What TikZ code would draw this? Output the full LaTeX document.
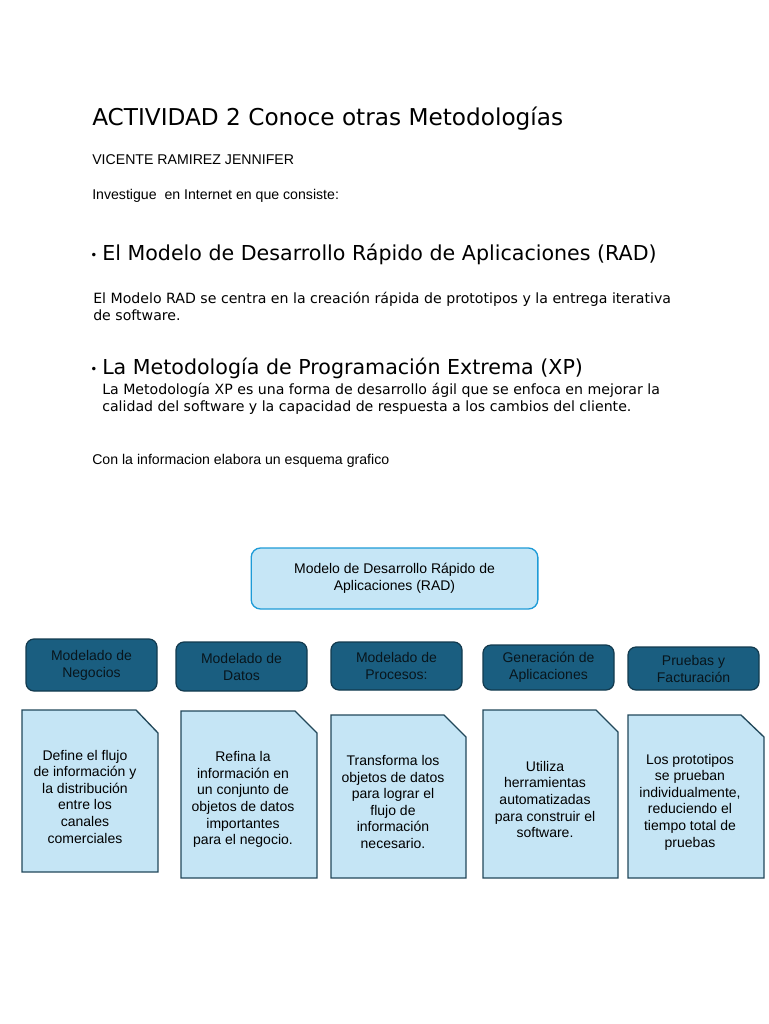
\documentclass[tikz,border=0pt]{standalone}
\usepackage{fontspec}
\setmainfont{DejaVu Sans}
\newfontfamily\arialf{Liberation Sans}
\definecolor{topfill}{HTML}{C6E6F6}
\definecolor{topdraw}{HTML}{1E9BD7}
\definecolor{darkfill}{HTML}{1A5E80}
\definecolor{darkdraw}{HTML}{123A4E}
\definecolor{docfill}{HTML}{C5E5F5}
\definecolor{docdraw}{HTML}{22485A}
\definecolor{darktext}{HTML}{08151C}
\begin{document}
\begin{tikzpicture}[x=0.75pt,y=-0.75pt,
  txt/.style={inner sep=0pt, anchor=base west},
  title/.style={txt,font=\fontsize{17.4}{20}\selectfont},
  heading/.style={txt,font=\fontsize{15.45}{18}\selectfont},
  bulletmark/.style={inner sep=0pt, anchor=base west, font=\fontsize{9}{9}\selectfont},
  body/.style={txt,font=\fontsize{10.6}{12.75}\selectfont, align=left},
  arialtxt/.style={txt,font=\arialf\fontsize{10.6}{12.75}\selectfont},
  topbox/.style={draw=topdraw, fill=topfill, rounded corners=7pt, line width=1pt,
    minimum width=215pt, minimum height=45.75pt, align=center, inner sep=0pt,
    font=\arialf\fontsize{10.5}{12.75}\selectfont},
  stagebox/.style={draw=darkdraw, fill=darkfill, rounded corners=6pt, line width=0.9pt,
    minimum width=98.25pt, align=center, inner sep=0pt, text=darktext,
    font=\arialf\fontsize{10.5}{12.75}\selectfont},
  docshape/.style={draw=docdraw, fill=docfill, line width=1pt},
  doctext/.style={align=center, inner sep=0pt, font=\arialf\fontsize{10.5}{12.45}\selectfont}
]
\useasboundingbox (0,0) rectangle (768,1024);

% ---- header text ----
\node[title] (t1) at (92,125) {ACTIVIDAD 2 Conoce otras Metodologías};
\node[arialtxt] (t2) at (92,164) {VICENTE RAMIREZ JENNIFER};
\node[arialtxt] (t3) at (92,199) {Investigue\ \ en Internet en que consiste:};

\node[bulletmark] (b1) at (90,259) {•};
\node[heading] (h1) at (102,260) {El Modelo de Desarrollo Rápido de Aplicaciones (RAD)};
\node[body] (p1) at (93,303) {El Modelo RAD se centra en la creación rápida de prototipos y la entrega iterativa};
\node[body] (p1b) at (93,320) {de software.};

\node[bulletmark] (b2) at (90,373) {•};
\node[heading] (h2) at (102,374) {La Metodología de Programación Extrema (XP)};
\node[body] (p2) at (102,394) {La Metodología XP es una forma de desarrollo ágil que se enfoca en mejorar la};
\node[body] (p2b) at (102,411) {calidad del software y la capacidad de respuesta a los cambios del cliente.};

\node[arialtxt] (t4) at (92,464) {Con la informacion elabora un esquema grafico};

% ---- top box ----
\node[topbox] (rad) at (394.5,578.5) {Modelo de Desarrollo Rápido de\\Aplicaciones (RAD)};

% ---- stage boxes ----
\node[stagebox, minimum height=39pt]    (s1) at (91.5,665)   {Modelado de\\Negocios};
\node[stagebox, minimum height=36.75pt] (s2) at (241.5,666.5) {Modelado de\\Datos};
\node[stagebox, minimum height=36pt]    (s3) at (396.5,666)  {Modelado de\\Procesos:};
\node[stagebox, minimum height=33.75pt] (s4) at (548.5,667.5) {Generación de\\Aplicaciones};
\node[stagebox, minimum height=32.25pt] (s5) at (693.5,668.5) {Pruebas y\\Facturación};

% ---- document shapes ----
\draw[docshape] (22,710) -- (136,710) -- (158,733) -- (158,872) -- (22,872) -- cycle;
\draw[docshape] (181,711) -- (295,711) -- (317,733) -- (317,878) -- (181,878) -- cycle;
\draw[docshape] (331,715) -- (444,715) -- (466,737) -- (466,878) -- (331,878) -- cycle;
\draw[docshape] (483,710) -- (596,710) -- (618,732) -- (618,878) -- (483,878) -- cycle;
\draw[docshape] (628,715) -- (741,715) -- (764,737) -- (764,878) -- (628,878) -- cycle;

\node[doctext] (d1) at (85,796.5) {Define el flujo\\de información y\\la distribución\\entre los\\canales\\comerciales};
\node[doctext] (d2) at (243,799.5) {Refina la\\información en\\un conjunto de\\objetos de datos\\importantes\\para el negocio.};
\node[doctext] (d3) at (393,802) {Transforma los\\objetos de datos\\para lograr el\\flujo de\\información\\necesario.};
\node[doctext] (d4) at (545,799.5) {Utiliza\\herramientas\\automatizadas\\para construir el\\software.};
\node[doctext] (d5) at (690,802) {Los prototipos\\se prueban\\individualmente,\\reduciendo el\\tiempo total de\\pruebas};
\end{tikzpicture}
\end{document}
